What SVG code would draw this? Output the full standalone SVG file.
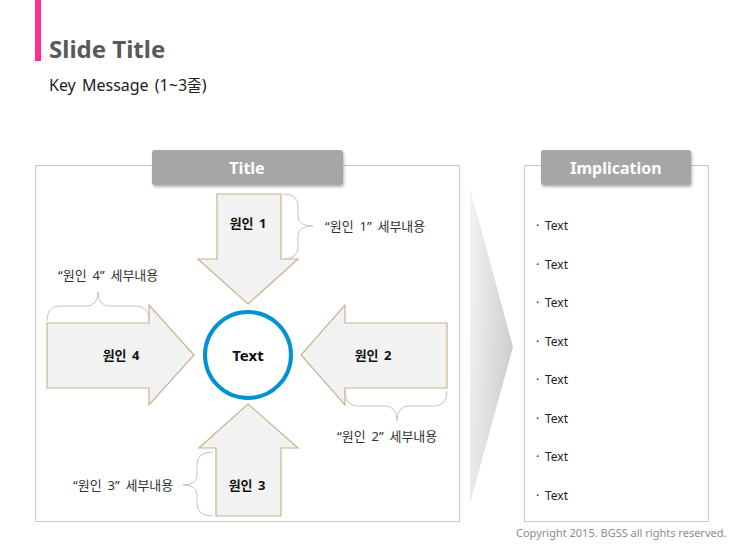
<svg xmlns="http://www.w3.org/2000/svg" width="743" height="557" viewBox="0 0 743 557">
<style>
text{font-family:"Noto Sans","Noto Sans CJK KR",sans-serif}
.panel{fill:#fff;stroke:#c8c8c8;stroke-width:1}
.tab{fill:#a6a6a6}
.tabt{fill:#fff;font-size:16px;font-weight:bold;text-anchor:middle}
.arrow{fill:#f2f2f2;stroke:#c8b48c;stroke-width:1.2}
.lab{font-size:13px;font-weight:bold;fill:#111;text-anchor:middle;dominant-baseline:central;word-spacing:2px}
.desc{font-size:13px;fill:#333;dominant-baseline:central;word-spacing:2.5px}
.brace{fill:none;stroke:#c4c4c4;stroke-width:1}
.bul{font-size:12px;fill:#222;dominant-baseline:central}
</style>
<defs>
<filter id="sh" x="-10%" y="-20%" width="120%" height="150%">
<feDropShadow dx="1" dy="2" stdDeviation="1.5" flood-color="#000" flood-opacity="0.3"/>
</filter>
<linearGradient id="chev" x1="0" y1="0" x2="1" y2="0.3">
<stop offset="0" stop-color="#f4f4f4"/>
<stop offset="1" stop-color="#cfcfcf"/>
</linearGradient>
</defs>
<g id="header">
<rect x="35" y="0" width="6" height="61" fill="#ff2d91"/>
<text x="49" y="58" font-size="24" font-weight="bold" fill="#595959">Slide Title</text>
<text x="49" y="91" font-size="16" fill="#222" word-spacing="2">Key Message (1~3줄)</text>
</g>
<g id="left-panel">
<rect class="panel" x="35.5" y="165.5" width="424" height="356"/>
<rect class="tab" x="152" y="150" width="191" height="35" rx="3" filter="url(#sh)"/>
<text class="tabt" x="247" y="174">Title</text>
</g>
<g id="chevron">
<polygon points="470,188 513,347 470,503" fill="url(#chev)"/>
</g>
<g id="right-panel">
<rect class="panel" x="524.5" y="165.5" width="184" height="356"/>
<rect class="tab" x="541" y="150" width="150" height="35" rx="3" filter="url(#sh)"/>
<text class="tabt" x="616" y="174">Implication</text>
<text class="bul" x="536" y="225">·<tspan x="545">Text</tspan></text>
<text class="bul" x="536" y="264">·<tspan x="545">Text</tspan></text>
<text class="bul" x="536" y="302">·<tspan x="545">Text</tspan></text>
<text class="bul" x="536" y="341">·<tspan x="545">Text</tspan></text>
<text class="bul" x="536" y="379">·<tspan x="545">Text</tspan></text>
<text class="bul" x="536" y="418">·<tspan x="545">Text</tspan></text>
<text class="bul" x="536" y="456">·<tspan x="545">Text</tspan></text>
<text class="bul" x="536" y="495">·<tspan x="545">Text</tspan></text>
</g>
<g id="cause1">
<polygon class="arrow" points="217,194 281,194 281,259 298,259 248,304 198,259 217,259"/>
<text class="lab" x="248" y="223">원인 1</text>
</g>
<g id="cause2">
<polygon class="arrow" points="447,323 447,388 345,388 345,405 301,355 345,305 345,323"/>
<text class="lab" x="373" y="355">원인 2</text>
</g>
<g id="cause3">
<polygon class="arrow" points="216,516 281,516 281,448 298,448 248,404 199,448 216,448"/>
<text class="lab" x="247" y="485">원인 3</text>
</g>
<g id="cause4">
<polygon class="arrow" points="47,323 149,323 149,305 194,355 149,405 149,388 47,388"/>
<text class="lab" x="121" y="355">원인 4</text>
</g>
<g id="center">
<circle cx="248" cy="355" r="43" fill="#fff" stroke="#0092d4" stroke-width="4"/>
<text class="lab" x="248" y="355" style="font-size:15px">Text</text>
</g>
<g id="connectors">
<path class="brace" d="M283,194 Q298,194 298,206 L298,216 Q298,226 313,226 Q298,226 298,236 L298,247 Q298,259 283,259"/>
<path class="brace" d="M47,321 Q47,306 60,306 L86,306 Q98,306 98,292 Q98,306 110,306 L136,306 Q149,306 149,321"/>
<path class="brace" d="M345,391 Q345,406 358,406 L385,406 Q397,406 397,421 Q397,406 409,406 L434,406 Q447,406 447,391"/>
<path class="brace" d="M213,452 Q197,452 197,464 L197,475 Q197,485 183,485 Q197,485 197,495 L197,504 Q197,516 213,516"/>
</g>
<g id="descriptions">
<text class="desc" x="325" y="226">“원인 1” 세부내용</text>
<text class="desc" x="58" y="275">“원인 4” 세부내용</text>
<text class="desc" x="337" y="436">“원인 2” 세부내용</text>
<text class="desc" x="73" y="485">“원인 3” 세부내용</text>
</g>
<text x="516" y="537" font-size="11" fill="#8c8c8c">Copyright 2015. BGSS all rights reserved.</text>
</svg>
